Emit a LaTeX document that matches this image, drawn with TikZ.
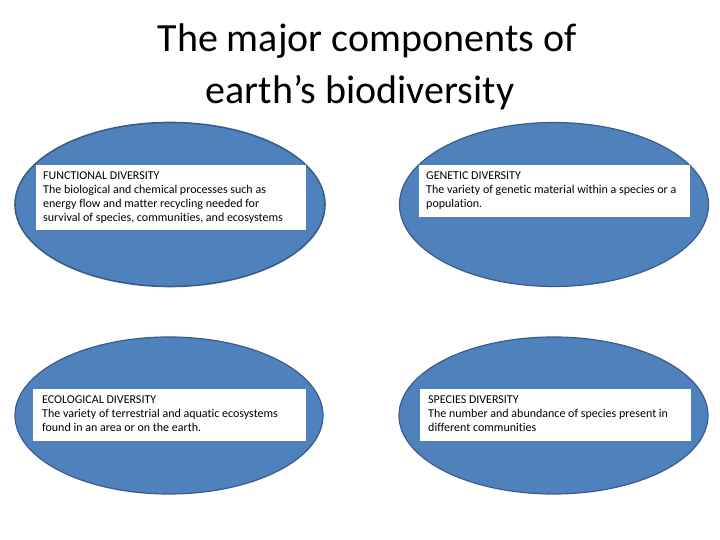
\documentclass[tikz,border=0pt]{standalone}
\usepackage{fontspec}
\setmainfont{Carlito}[Ligatures={NoCommon}]
\definecolor{ovalfill}{HTML}{4F81BD}
\definecolor{ovalline}{HTML}{385D8A}
\begin{document}
\begin{tikzpicture}[x=1pt,y=1pt,
  card/.style={fill=white, draw=none},
  cardtext/.style={anchor=north west, inner sep=0pt, align=left,
    font=\fontsize{12}{14}\selectfont, text=black},
  titletext/.style={anchor=base, inner sep=0pt, font=\fontsize{40}{48}\selectfont, text=black}]
\useasboundingbox (0,0) rectangle (720,540);
% ovals
\path[fill=ovalfill, draw=ovalline, line width=1.6pt] (170,335.5) ellipse [x radius=155, y radius=82];
\path[fill=ovalfill, draw=ovalline, line width=1.2pt] (554,335.5) ellipse [x radius=154.5, y radius=82];
\path[fill=ovalfill, draw=ovalline, line width=1.2pt] (169,124.5) ellipse [x radius=154, y radius=78.5];
\path[fill=ovalfill, draw=ovalline, line width=1.2pt] (553.5,124.5) ellipse [x radius=154.5, y radius=78.5];
% title
\node[titletext] (title1) at (367,488) {The major components of};
\node[titletext] (title2) at (360,436) {earth’s biodiversity};
% cards
\fill[card] (36,310) rectangle (306,375);
\fill[card] (419,323) rectangle (690,375);
\fill[card] (33,99) rectangle (306,151);
\fill[card] (420,99) rectangle (691,151);
\node[cardtext] (functional) at (43,368) {FUNCTIONAL DIVERSITY\\The biological and chemical processes such as\\energy flow and matter recycling needed for\\survival of species, communities, and ecosystems};
\node[cardtext] (genetic) at (426,368) {GENETIC DIVERSITY\\The variety of genetic material within a species or a\\population.};
\node[cardtext] (ecological) at (42,144) {ECOLOGICAL DIVERSITY\\The variety of terrestrial and aquatic ecosystems\\found in an area or on the earth.};
\node[cardtext] (species) at (428,144) {SPECIES DIVERSITY\\The number and abundance of species present in\\different communities};
\end{tikzpicture}
\end{document}
